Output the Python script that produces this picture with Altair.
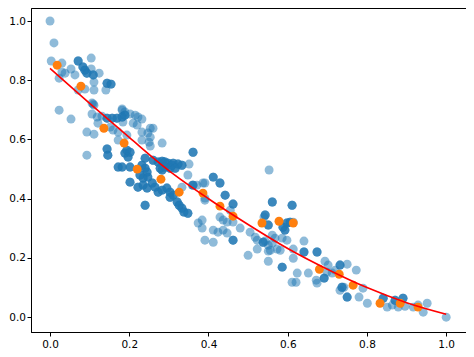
import altair as alt
import pandas as pd

# single (semi-transparent) blue points
light_x = [0.00, 0.010, 0.003, 0.030, 0.023, 0.030, 0.038, 0.053, 0.063, 0.104, 0.104, 0.124, 0.111,
           0.071, 0.088, 0.111, 0.141, 0.109, 0.023, 0.182, 0.053, 0.106, 0.111, 0.106, 0.119, 0.131,
           0.121, 0.152, 0.159, 0.172, 0.093, 0.111, 0.172, 0.093, 0.194, 0.232, 0.253, 0.260, 0.247,
           0.253, 0.232, 0.250, 0.253, 0.283, 0.184, 0.202, 0.215, 0.222, 0.232, 0.210, 0.220, 0.351,
           0.348, 0.333, 0.359, 0.371, 0.386, 0.391, 0.374, 0.384, 0.182, 0.189,
           0.553, 0.391, 0.391, 0.455, 0.384, 0.429, 0.437, 0.447, 0.462, 0.412, 0.424, 0.437, 0.447,
           0.480, 0.505, 0.518, 0.391, 0.412, 0.551, 0.561, 0.586, 0.598, 0.556, 0.581, 0.540, 0.523,
           0.543, 0.561, 0.568, 0.523, 0.551, 0.573, 0.551, 0.614, 0.614, 0.641, 0.624, 0.652, 0.611,
           0.621, 0.672, 0.674, 0.694, 0.702, 0.750, 0.773, 0.699, 0.712, 0.720, 0.732, 0.742, 0.780,
           0.790, 0.801, 0.851, 0.864, 0.879, 0.896, 0.917, 0.929, 0.942, 0.952, 1.000, 0.500, 0.614]
light_y = [1.000, 0.926, 0.865, 0.858, 0.807, 0.828, 0.824, 0.838, 0.818, 0.875, 0.838, 0.824, 0.794,
           0.767, 0.770, 0.767, 0.767, 0.720, 0.699, 0.703, 0.669, 0.723, 0.716, 0.686, 0.676, 0.679,
           0.655, 0.642, 0.632, 0.625, 0.625, 0.618, 0.598, 0.547, 0.615, 0.625, 0.638, 0.638, 0.622,
           0.608, 0.598, 0.591, 0.578, 0.588, 0.659, 0.686, 0.682, 0.676, 0.669, 0.655, 0.649, 0.517,
           0.480, 0.439, 0.446, 0.446, 0.453, 0.402, 0.318, 0.301, 0.699, 0.693,
           0.497, 0.453, 0.395, 0.361, 0.328, 0.338, 0.328, 0.321, 0.321, 0.294, 0.287, 0.294, 0.284,
           0.301, 0.287, 0.270, 0.260, 0.253, 0.243, 0.250, 0.267, 0.260, 0.226, 0.226, 0.338, 0.260,
           0.257, 0.277, 0.267, 0.230, 0.223, 0.230, 0.189, 0.230, 0.199, 0.257, 0.149, 0.149, 0.118,
           0.118, 0.125, 0.115, 0.189, 0.176, 0.179, 0.159, 0.152, 0.149, 0.159, 0.091, 0.101, 0.068,
           0.098, 0.047, 0.034, 0.041, 0.034, 0.037, 0.034, 0.041, 0.017, 0.047, 0.000, 0.209, 0.321]

# points that appear dark blue (overlapping repeated observations)
dense_x = [0.071, 0.083, 0.088, 0.093, 0.109, 0.144, 0.154, 0.144, 0.157, 0.169, 0.182, 0.189,
           0.144, 0.146, 0.189, 0.197, 0.194, 0.202, 0.361, 0.240, 0.260, 0.273, 0.283, 0.290, 0.298,
           0.311, 0.323, 0.278, 0.290, 0.303, 0.232, 0.240, 0.202, 0.182, 0.245, 0.283, 0.308, 0.316,
           0.333, 0.202, 0.222, 0.235, 0.245, 0.258, 0.265, 0.273, 0.283, 0.295, 0.303, 0.227, 0.235,
           0.247, 0.303, 0.311, 0.321, 0.326, 0.333, 0.338, 0.348, 0.240, 0.172, 0.412, 0.429, 0.442,
           0.462, 0.561, 0.543, 0.611, 0.598, 0.593, 0.606, 0.588, 0.462, 0.538, 0.641, 0.674, 0.586,
           0.692, 0.732, 0.737, 0.750, 0.841, 0.871, 0.891, 0.361, 0.551]
dense_y = [0.865, 0.845, 0.834, 0.824, 0.818, 0.790, 0.787, 0.672, 0.672, 0.672, 0.676, 0.682,
           0.568, 0.547, 0.554, 0.541, 0.564, 0.557, 0.557, 0.537, 0.530, 0.524, 0.527, 0.524, 0.520,
           0.520, 0.517, 0.503, 0.507, 0.503, 0.513, 0.503, 0.507, 0.507, 0.490, 0.497, 0.513, 0.503,
           0.513, 0.456, 0.439, 0.446, 0.436, 0.453, 0.439, 0.422, 0.429, 0.436, 0.422, 0.480, 0.470,
           0.473, 0.405, 0.412, 0.389, 0.378, 0.368, 0.355, 0.351, 0.378, 0.507, 0.473, 0.453, 0.412,
           0.382, 0.389, 0.345, 0.378, 0.318, 0.294, 0.321, 0.304, 0.260, 0.253, 0.220, 0.220, 0.169,
           0.132, 0.176, 0.101, 0.068, 0.064, 0.057, 0.064, 0.446, 0.311]

# orange points
orange_x = [0.018, 0.078, 0.136, 0.187, 0.220, 0.280, 0.326, 0.386, 0.429, 0.462, 0.535, 0.578,
            0.614, 0.680, 0.730, 0.765, 0.833, 0.884, 0.929]
orange_y = [0.851, 0.780, 0.638, 0.588, 0.500, 0.466, 0.422, 0.419, 0.375, 0.341, 0.318, 0.324,
            0.318, 0.162, 0.145, 0.108, 0.047, 0.047, 0.034]

# fitted curve
curve_x = [0.0, 0.1, 0.2, 0.3, 0.4, 0.5, 0.6, 0.7, 0.8, 0.9, 1.0]
curve_y = [0.840, 0.722, 0.607, 0.495, 0.400, 0.313, 0.232, 0.162, 0.100, 0.049, 0.010]

tick_vals = [0.0, 0.2, 0.4, 0.6, 0.8, 1.0]

blue_df = pd.DataFrame({
    "x": light_x + dense_x + dense_x + dense_x,
    "y": light_y + dense_y + dense_y + dense_y,
})
orange_df = pd.DataFrame({"x": orange_x, "y": orange_y})
curve_df = pd.DataFrame({"x": curve_x, "y": curve_y})

xscale = alt.Scale(domain=[-0.048, 1.05], nice=False, zero=False)
yscale = alt.Scale(domain=[-0.05, 1.044], nice=False, zero=False)
xaxis = alt.Axis(values=tick_vals, format=".1f", title=None, labelPadding=3)
yaxis = alt.Axis(values=tick_vals, format=".1f", title=None, labelPadding=1.5)

blue = alt.Chart(blue_df).mark_circle(size=80, color="#1f77b4", opacity=0.5).encode(
    x=alt.X("x:Q", scale=xscale, axis=xaxis),
    y=alt.Y("y:Q", scale=yscale, axis=yaxis),
)
orange = alt.Chart(orange_df).mark_circle(size=80, color="#ff7f0e", opacity=1).encode(
    x=alt.X("x:Q", scale=xscale, axis=xaxis),
    y=alt.Y("y:Q", scale=yscale, axis=yaxis),
)
line = alt.Chart(curve_df).mark_line(color="#ff0000", strokeWidth=1.6, interpolate="monotone").encode(
    x=alt.X("x:Q", scale=xscale, axis=xaxis),
    y=alt.Y("y:Q", scale=yscale, axis=yaxis),
)

chart = (
    alt.layer(blue, orange, line)
    .properties(
        width=435,
        height=324,
        autosize=alt.AutoSizeParams(type="none"),
        padding={"left": 23, "top": 0, "right": 0, "bottom": 20},
    )
    .configure_view(stroke="black", strokeWidth=1)
    .configure_axis(
        grid=False,
        domainColor="black",
        tickColor="black",
        tickSize=4,
        labelColor="black",
        labelFont="DejaVu Sans",
        labelFontSize=10.5,
    )
)

chart.save("out.html", embed_options={"renderer": "svg", "actions": False})
